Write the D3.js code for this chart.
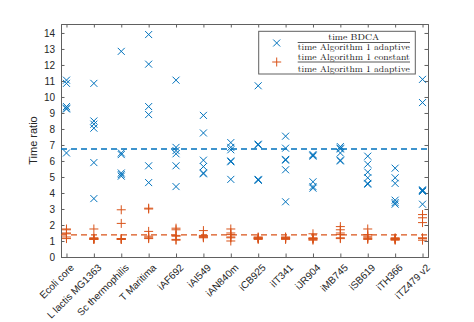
<!DOCTYPE html>
<html><head><meta charset="utf-8">
<script src="https://cdn.jsdelivr.net/npm/d3@7"></script>
<style>html,body{margin:0;padding:0;background:#fff}svg{display:block}</style>
</head><body><svg id="c" width="474" height="322"></svg>
<script>
const categories = ["Ecoli core","L lactis MG1363","Sc thermophilis","T Maritima","iAF692","iAI549","iAN840m","iCB925","iIT341","iJR904","iMB745","iSB619","iTH366","iTZ479 v2"];
const ratioAdaptive = [
 [11.05,10.85,9.4,9.3,9.25,6.5],
 [10.85,8.5,8.3,8.05,5.9,3.65],
 [12.85,6.5,6.4,5.25,5.15,5.05],
 [13.9,12.05,9.4,8.9,5.7,4.65],
 [11.05,6.85,6.65,6.45,5.7,4.4],
 [8.85,7.75,6.05,5.65,5.25,5.2],
 [7.15,6.85,6.7,6.0,5.95,4.85],
 [10.7,7.05,7.0,4.85,4.8,4.8],
 [7.55,6.8,6.1,6.05,5.45,3.45],
 [6.4,6.35,6.3,4.7,4.4,4.3],
 [6.9,6.8,6.75,6.5,6.05,6.0],
 [6.3,5.8,5.3,4.95,4.6,4.55],
 [5.55,4.95,4.6,3.55,3.4,3.3],
 [11.1,9.65,4.2,4.15,4.1,3.3]
];
const ratioConstant = [
 [1.75,1.7,1.5,1.45,1.25,1.15],
 [1.75,1.2,1.15,1.15,1.1,1.1],
 [2.95,2.1,1.15,1.15,1.1,1.1],
 [3.05,3.0,1.6,1.3,1.2,1.15],
 [1.8,1.7,1.35,1.3,1.1,1.05],
 [1.65,1.35,1.3,1.25,1.25,1.2],
 [1.75,1.5,1.4,1.25,1.2,1.0],
 [1.25,1.2,1.2,1.15,1.15,1.1],
 [1.25,1.2,1.2,1.15,1.15,1.1],
 [1.45,1.2,1.15,1.15,1.1,1.05],
 [1.9,1.7,1.5,1.4,1.2,1.15],
 [1.75,1.4,1.3,1.2,1.15,1.1],
 [1.2,1.15,1.15,1.1,1.1,1.05],
 [2.65,2.45,2.15,1.2,1.15,1.05]
];
const meanAdaptive = 6.75;
const meanConstant = 1.38;
const yTicks = [0,1,2,3,4,5,6,7,8,9,10,11,12,13,14];

const blue = "#0072BD", orange = "#D95319", axisCol = "#606060", txtCol = "#262626";
const L = 61, R = 428, T = 24, B = 257;
const svg = d3.select("#c");
const x = d3.scaleLinear().domain([0.8, 14.2]).range([L, R]);
const y = d3.scaleLinear().domain([0, 14.56]).range([B, T]);
const xt = categories.map((d,i)=>i+1);

const tl = 3.5;
const axB = svg.append("g").attr("transform",`translate(0,${B})`)
  .call(d3.axisBottom(x).tickValues(xt).tickSize(-tl).tickFormat(""));
const axT = svg.append("g").attr("transform",`translate(0,${T})`)
  .call(d3.axisTop(x).tickValues(xt).tickSize(-tl).tickFormat(""));
const axL = svg.append("g").attr("transform",`translate(${L},0)`)
  .call(d3.axisLeft(y).tickValues(yTicks).tickSize(-tl).tickPadding(6).tickFormat(d3.format("d")));
const axR = svg.append("g").attr("transform",`translate(${R},0)`)
  .call(d3.axisRight(y).tickValues(yTicks).tickSize(-tl).tickFormat(""));
[axB,axT,axL,axR].forEach(a=>{
  a.select(".domain").attr("stroke",axisCol);
  a.selectAll(".tick line").attr("stroke",axisCol);
});
axL.selectAll(".tick text").attr("font-family","Liberation Sans, Arial, sans-serif").attr("font-size","10px").attr("fill",txtCol);

svg.append("g").selectAll("text").data(categories).join("text")
  .attr("transform",(d,i)=>`translate(${x(i+1)+4},${B+7}) rotate(-45)`)
  .attr("text-anchor","end").attr("dy","0.6em")
  .attr("font-family","Liberation Sans, Arial, sans-serif").attr("font-size","10px").attr("fill",txtCol)
  .text(d=>d);

svg.append("text").attr("transform",`translate(37,${(T+B)/2}) rotate(-90)`)
  .attr("text-anchor","middle").attr("font-family","Liberation Sans, Arial, sans-serif")
  .attr("font-size","11px").attr("fill",txtCol).text("Time ratio");

svg.append("line").attr("x1",L).attr("x2",R).attr("y1",y(meanAdaptive)).attr("y2",y(meanAdaptive))
  .attr("stroke",blue).attr("stroke-width",1.3).attr("stroke-dasharray","6,4");
svg.append("line").attr("x1",L).attr("x2",R).attr("y1",y(meanConstant)).attr("y2",y(meanConstant))
  .attr("stroke",orange).attr("stroke-width",1.3).attr("stroke-dasharray","6,4");

const crossPath = s=>`M${-s},${-s}L${s},${s}M${-s},${s}L${s},${-s}`;
const plusPath = s=>`M${-s},0L${s},0M0,${-s}L0,${s}`;

const ptsA = ratioAdaptive.flatMap((arr,i)=>arr.map(v=>({i,v})));
const ptsC = ratioConstant.flatMap((arr,i)=>arr.map(v=>({i,v})));
svg.append("g").selectAll("path").data(ptsC).join("path")
  .attr("transform",d=>`translate(${x(d.i+1)},${y(d.v)})`)
  .attr("d",plusPath(4.5)).attr("stroke",orange).attr("stroke-width",1).attr("fill","none");
svg.append("g").selectAll("path").data(ptsA).join("path")
  .attr("transform",d=>`translate(${x(d.i+1)},${y(d.v)})`)
  .attr("d",crossPath(3.5)).attr("stroke",blue).attr("stroke-width",1).attr("fill","none");

const lg = svg.append("g");
lg.append("rect").attr("x",258.7).attr("y",31.3).attr("width",156.6).attr("height",42.7)
  .attr("fill","#fff").attr("stroke",axisCol).attr("stroke-width",1);
lg.append("path").attr("transform","translate(276.7,43)").attr("d",crossPath(3.5)).attr("stroke",blue).attr("fill","none");
lg.append("path").attr("transform","translate(276.7,62)").attr("d",plusPath(4.5)).attr("stroke",orange).attr("fill","none");
const serif = "Latin Modern Roman, DejaVu Serif, Liberation Serif, serif";
const fx1 = 297.7, fx2 = 410, fc = (fx1+fx2)/2;
function ltext(t, yy, w){
  lg.append("text").attr("x",fc).attr("y",yy).attr("text-anchor","middle")
    .attr("font-family",serif).attr("font-size","8.4px").attr("fill","#111")
    .attr("textLength",w).attr("lengthAdjust","spacingAndGlyphs").text(t);
}
ltext("time BDCA", 40, 51);
lg.append("line").attr("x1",fx1).attr("x2",fx2).attr("y1",42.5).attr("y2",42.5).attr("stroke","#111").attr("stroke-width",0.7);
ltext("time Algorithm 1 adaptive", 50, 112);
ltext("time Algorithm 1 constant", 59.8, 112);
lg.append("line").attr("x1",fx1).attr("x2",fx2).attr("y1",62).attr("y2",62).attr("stroke","#111").attr("stroke-width",0.7);
ltext("time Algorithm 1 adaptive", 71.5, 112);
</script></body></html>
